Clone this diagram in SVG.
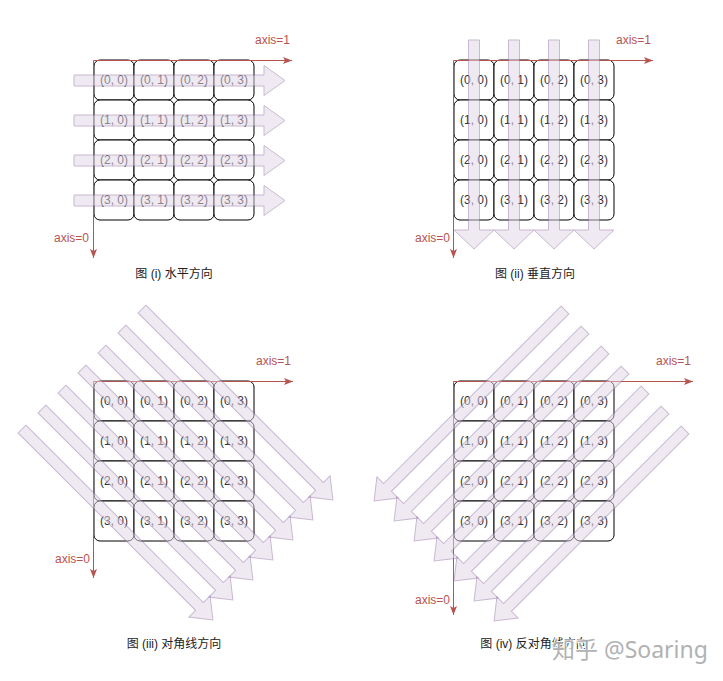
<svg xmlns="http://www.w3.org/2000/svg" xmlns:xlink="http://www.w3.org/1999/xlink" width="723" height="681" viewBox="0 0 723 681">
<style>
.cell{fill:#fff;stroke:#000;stroke-width:1}
.t{font-family:"Liberation Sans",Arial,sans-serif;font-size:12px;fill:#333;text-anchor:middle}
.ax{stroke:#b85450;stroke-width:1;fill:none;marker-end:url(#ah)}
.al{font-family:"Liberation Sans",Arial,sans-serif;font-size:12px;fill:#b85450;text-anchor:end}
.fa{fill:#e1d5e7;stroke:#9673a6;stroke-width:1;opacity:0.5}
.cap{font-family:"Liberation Sans","Noto Sans CJK SC",sans-serif;font-size:12px;fill:#222;text-anchor:middle}
.wm{font-family:"Noto Sans","Noto Sans CJK SC",sans-serif;font-size:23px;fill:#aaaaaa;stroke:#fff;stroke-width:2;paint-order:stroke;opacity:0.9}
</style>
<defs>
<marker id="ah" markerUnits="userSpaceOnUse" markerWidth="10" markerHeight="8" refX="9" refY="4" orient="auto">
<path d="M0,0.5 L9,4 L0,7.5 L2,4 Z" fill="#b85450"/>
</marker>
<path id="ha" d="M0,-5.5 H190 V-15 L211,0 L190,15 V5.5 H0 Z"/>
<path id="va" d="M-5.5,0 H5.5 V190 H20 L0,209 L-20,190 H-5.5 Z"/>
<path id="da" d="M0,-5.5 H251 V-15 L270,0 L251,15 V5.5 H0 Z"/>
</defs>
<rect width="723" height="681" fill="#fff"/>

<!-- Panel i -->
<g id="i-00"><rect class="cell" x="94" y="60" width="40" height="40" rx="6"/><text class="t" x="114" y="84">(0, 0)</text></g>
<g id="i-01"><rect class="cell" x="134" y="60" width="40" height="40" rx="6"/><text class="t" x="154" y="84">(0, 1)</text></g>
<g id="i-02"><rect class="cell" x="174" y="60" width="40" height="40" rx="6"/><text class="t" x="194" y="84">(0, 2)</text></g>
<g id="i-03"><rect class="cell" x="214" y="60" width="40" height="40" rx="6"/><text class="t" x="234" y="84">(0, 3)</text></g>
<g id="i-10"><rect class="cell" x="94" y="100" width="40" height="40" rx="6"/><text class="t" x="114" y="124">(1, 0)</text></g>
<g id="i-11"><rect class="cell" x="134" y="100" width="40" height="40" rx="6"/><text class="t" x="154" y="124">(1, 1)</text></g>
<g id="i-12"><rect class="cell" x="174" y="100" width="40" height="40" rx="6"/><text class="t" x="194" y="124">(1, 2)</text></g>
<g id="i-13"><rect class="cell" x="214" y="100" width="40" height="40" rx="6"/><text class="t" x="234" y="124">(1, 3)</text></g>
<g id="i-20"><rect class="cell" x="94" y="140" width="40" height="40" rx="6"/><text class="t" x="114" y="164">(2, 0)</text></g>
<g id="i-21"><rect class="cell" x="134" y="140" width="40" height="40" rx="6"/><text class="t" x="154" y="164">(2, 1)</text></g>
<g id="i-22"><rect class="cell" x="174" y="140" width="40" height="40" rx="6"/><text class="t" x="194" y="164">(2, 2)</text></g>
<g id="i-23"><rect class="cell" x="214" y="140" width="40" height="40" rx="6"/><text class="t" x="234" y="164">(2, 3)</text></g>
<g id="i-30"><rect class="cell" x="94" y="180" width="40" height="40" rx="6"/><text class="t" x="114" y="204">(3, 0)</text></g>
<g id="i-31"><rect class="cell" x="134" y="180" width="40" height="40" rx="6"/><text class="t" x="154" y="204">(3, 1)</text></g>
<g id="i-32"><rect class="cell" x="174" y="180" width="40" height="40" rx="6"/><text class="t" x="194" y="204">(3, 2)</text></g>
<g id="i-33"><rect class="cell" x="214" y="180" width="40" height="40" rx="6"/><text class="t" x="234" y="204">(3, 3)</text></g>

<!-- Panel ii -->
<g id="ii-00"><rect class="cell" x="454" y="60" width="40" height="40" rx="6"/><text class="t" x="474" y="84">(0, 0)</text></g>
<g id="ii-01"><rect class="cell" x="494" y="60" width="40" height="40" rx="6"/><text class="t" x="514" y="84">(0, 1)</text></g>
<g id="ii-02"><rect class="cell" x="534" y="60" width="40" height="40" rx="6"/><text class="t" x="554" y="84">(0, 2)</text></g>
<g id="ii-03"><rect class="cell" x="574" y="60" width="40" height="40" rx="6"/><text class="t" x="594" y="84">(0, 3)</text></g>
<g id="ii-10"><rect class="cell" x="454" y="100" width="40" height="40" rx="6"/><text class="t" x="474" y="124">(1, 0)</text></g>
<g id="ii-11"><rect class="cell" x="494" y="100" width="40" height="40" rx="6"/><text class="t" x="514" y="124">(1, 1)</text></g>
<g id="ii-12"><rect class="cell" x="534" y="100" width="40" height="40" rx="6"/><text class="t" x="554" y="124">(1, 2)</text></g>
<g id="ii-13"><rect class="cell" x="574" y="100" width="40" height="40" rx="6"/><text class="t" x="594" y="124">(1, 3)</text></g>
<g id="ii-20"><rect class="cell" x="454" y="140" width="40" height="40" rx="6"/><text class="t" x="474" y="164">(2, 0)</text></g>
<g id="ii-21"><rect class="cell" x="494" y="140" width="40" height="40" rx="6"/><text class="t" x="514" y="164">(2, 1)</text></g>
<g id="ii-22"><rect class="cell" x="534" y="140" width="40" height="40" rx="6"/><text class="t" x="554" y="164">(2, 2)</text></g>
<g id="ii-23"><rect class="cell" x="574" y="140" width="40" height="40" rx="6"/><text class="t" x="594" y="164">(2, 3)</text></g>
<g id="ii-30"><rect class="cell" x="454" y="180" width="40" height="40" rx="6"/><text class="t" x="474" y="204">(3, 0)</text></g>
<g id="ii-31"><rect class="cell" x="494" y="180" width="40" height="40" rx="6"/><text class="t" x="514" y="204">(3, 1)</text></g>
<g id="ii-32"><rect class="cell" x="534" y="180" width="40" height="40" rx="6"/><text class="t" x="554" y="204">(3, 2)</text></g>
<g id="ii-33"><rect class="cell" x="574" y="180" width="40" height="40" rx="6"/><text class="t" x="594" y="204">(3, 3)</text></g>

<!-- Panel iii -->
<g id="iii-00"><rect class="cell" x="94" y="381" width="40" height="40" rx="6"/><text class="t" x="114" y="405">(0, 0)</text></g>
<g id="iii-01"><rect class="cell" x="134" y="381" width="40" height="40" rx="6"/><text class="t" x="154" y="405">(0, 1)</text></g>
<g id="iii-02"><rect class="cell" x="174" y="381" width="40" height="40" rx="6"/><text class="t" x="194" y="405">(0, 2)</text></g>
<g id="iii-03"><rect class="cell" x="214" y="381" width="40" height="40" rx="6"/><text class="t" x="234" y="405">(0, 3)</text></g>
<g id="iii-10"><rect class="cell" x="94" y="421" width="40" height="40" rx="6"/><text class="t" x="114" y="445">(1, 0)</text></g>
<g id="iii-11"><rect class="cell" x="134" y="421" width="40" height="40" rx="6"/><text class="t" x="154" y="445">(1, 1)</text></g>
<g id="iii-12"><rect class="cell" x="174" y="421" width="40" height="40" rx="6"/><text class="t" x="194" y="445">(1, 2)</text></g>
<g id="iii-13"><rect class="cell" x="214" y="421" width="40" height="40" rx="6"/><text class="t" x="234" y="445">(1, 3)</text></g>
<g id="iii-20"><rect class="cell" x="94" y="461" width="40" height="40" rx="6"/><text class="t" x="114" y="485">(2, 0)</text></g>
<g id="iii-21"><rect class="cell" x="134" y="461" width="40" height="40" rx="6"/><text class="t" x="154" y="485">(2, 1)</text></g>
<g id="iii-22"><rect class="cell" x="174" y="461" width="40" height="40" rx="6"/><text class="t" x="194" y="485">(2, 2)</text></g>
<g id="iii-23"><rect class="cell" x="214" y="461" width="40" height="40" rx="6"/><text class="t" x="234" y="485">(2, 3)</text></g>
<g id="iii-30"><rect class="cell" x="94" y="501" width="40" height="40" rx="6"/><text class="t" x="114" y="525">(3, 0)</text></g>
<g id="iii-31"><rect class="cell" x="134" y="501" width="40" height="40" rx="6"/><text class="t" x="154" y="525">(3, 1)</text></g>
<g id="iii-32"><rect class="cell" x="174" y="501" width="40" height="40" rx="6"/><text class="t" x="194" y="525">(3, 2)</text></g>
<g id="iii-33"><rect class="cell" x="214" y="501" width="40" height="40" rx="6"/><text class="t" x="234" y="525">(3, 3)</text></g>

<!-- Panel iv -->
<g id="iv-00"><rect class="cell" x="454" y="381" width="40" height="40" rx="6"/><text class="t" x="474" y="405">(0, 0)</text></g>
<g id="iv-01"><rect class="cell" x="494" y="381" width="40" height="40" rx="6"/><text class="t" x="514" y="405">(0, 1)</text></g>
<g id="iv-02"><rect class="cell" x="534" y="381" width="40" height="40" rx="6"/><text class="t" x="554" y="405">(0, 2)</text></g>
<g id="iv-03"><rect class="cell" x="574" y="381" width="40" height="40" rx="6"/><text class="t" x="594" y="405">(0, 3)</text></g>
<g id="iv-10"><rect class="cell" x="454" y="421" width="40" height="40" rx="6"/><text class="t" x="474" y="445">(1, 0)</text></g>
<g id="iv-11"><rect class="cell" x="494" y="421" width="40" height="40" rx="6"/><text class="t" x="514" y="445">(1, 1)</text></g>
<g id="iv-12"><rect class="cell" x="534" y="421" width="40" height="40" rx="6"/><text class="t" x="554" y="445">(1, 2)</text></g>
<g id="iv-13"><rect class="cell" x="574" y="421" width="40" height="40" rx="6"/><text class="t" x="594" y="445">(1, 3)</text></g>
<g id="iv-20"><rect class="cell" x="454" y="461" width="40" height="40" rx="6"/><text class="t" x="474" y="485">(2, 0)</text></g>
<g id="iv-21"><rect class="cell" x="494" y="461" width="40" height="40" rx="6"/><text class="t" x="514" y="485">(2, 1)</text></g>
<g id="iv-22"><rect class="cell" x="534" y="461" width="40" height="40" rx="6"/><text class="t" x="554" y="485">(2, 2)</text></g>
<g id="iv-23"><rect class="cell" x="574" y="461" width="40" height="40" rx="6"/><text class="t" x="594" y="485">(2, 3)</text></g>
<g id="iv-30"><rect class="cell" x="454" y="501" width="40" height="40" rx="6"/><text class="t" x="474" y="525">(3, 0)</text></g>
<g id="iv-31"><rect class="cell" x="494" y="501" width="40" height="40" rx="6"/><text class="t" x="514" y="525">(3, 1)</text></g>
<g id="iv-32"><rect class="cell" x="534" y="501" width="40" height="40" rx="6"/><text class="t" x="554" y="525">(3, 2)</text></g>
<g id="iv-33"><rect class="cell" x="574" y="501" width="40" height="40" rx="6"/><text class="t" x="594" y="525">(3, 3)</text></g>

<!-- Axes -->
<g id="axes">
<path class="ax" d="M93.5,60.5 H292"/>
<path class="ax" d="M93.5,60.5 V258"/>
<path class="ax" d="M453.5,60.5 H653"/>
<path class="ax" d="M453.5,60.5 V258"/>
<path class="ax" d="M93.5,381.5 H293"/>
<path class="ax" d="M93.5,381.5 V578"/>
<path class="ax" d="M453.5,381.5 H693"/>
<path class="ax" d="M453.5,381.5 V615"/>
</g>
<g id="axis-labels">
<text class="al" x="290" y="44">axis=1</text>
<text class="al" x="89" y="242">axis=0</text>
<text class="al" x="651" y="44">axis=1</text>
<text class="al" x="450" y="242">axis=0</text>
<text class="al" x="291" y="365">axis=1</text>
<text class="al" x="90" y="563">axis=0</text>
<text class="al" x="691" y="365">axis=1</text>
<text class="al" x="450" y="604">axis=0</text>
</g>

<!-- Direction arrows -->
<g id="connectors">
<use xlink:href="#ha" class="fa" transform="translate(74,80.5)"/>
<use xlink:href="#ha" class="fa" transform="translate(74,120.5)"/>
<use xlink:href="#ha" class="fa" transform="translate(74,160.5)"/>
<use xlink:href="#ha" class="fa" transform="translate(74,200.5)"/>

<use xlink:href="#va" class="fa" transform="translate(474,40)"/>
<use xlink:href="#va" class="fa" transform="translate(514,40)"/>
<use xlink:href="#va" class="fa" transform="translate(554,40)"/>
<use xlink:href="#va" class="fa" transform="translate(594,40)"/>

<use xlink:href="#da" class="fa" transform="translate(142,309) rotate(45)"/>
<use xlink:href="#da" class="fa" transform="translate(122,329) rotate(45)"/>
<use xlink:href="#da" class="fa" transform="translate(102,349) rotate(45)"/>
<use xlink:href="#da" class="fa" transform="translate(82,369) rotate(45)"/>
<use xlink:href="#da" class="fa" transform="translate(62,389) rotate(45)"/>
<use xlink:href="#da" class="fa" transform="translate(42,409) rotate(45)"/>
<use xlink:href="#da" class="fa" transform="translate(22,429) rotate(45)"/>

<use xlink:href="#da" class="fa" transform="translate(565,310) rotate(135)"/>
<use xlink:href="#da" class="fa" transform="translate(585,330) rotate(135)"/>
<use xlink:href="#da" class="fa" transform="translate(605,350) rotate(135)"/>
<use xlink:href="#da" class="fa" transform="translate(625,370) rotate(135)"/>
<use xlink:href="#da" class="fa" transform="translate(645,390) rotate(135)"/>
<use xlink:href="#da" class="fa" transform="translate(665,410) rotate(135)"/>
<use xlink:href="#da" class="fa" transform="translate(685,430) rotate(135)"/>
</g>

<!-- Captions -->
<g id="captions">
<text class="cap" x="174" y="278">图 (i) 水平方向</text>
<text class="cap" x="535" y="278">图 (ii) 垂直方向</text>
<text class="cap" x="174" y="648">图 (iii) 对角线方向</text>
<text class="cap" x="534" y="648">图 (iv) 反对角线方向</text>
</g>
<text class="wm" x="552" y="658">知乎 @Soaring</text>
</svg>
